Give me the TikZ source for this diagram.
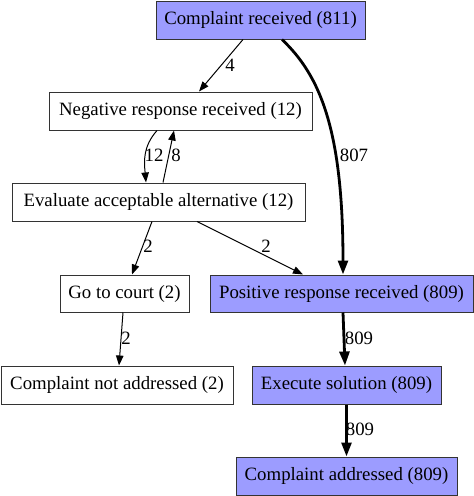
\documentclass[tikz,border=0pt]{standalone}
\usepackage{fontspec}
\setmainfont{Liberation Serif}
\usetikzlibrary{arrows.meta}
\definecolor{hot}{HTML}{9C9CFF}
\definecolor{edgegray}{HTML}{333333}
\tikzset{
  box/.style={draw=edgegray, line width=1pt, fill=white, minimum height=38pt, inner sep=0pt,
              font=\fontsize{18.8}{22}\selectfont},
  hotbox/.style={box, fill=hot},
  thin/.style={draw=black, line width=1pt, -{Triangle[length=10pt,width=7.5pt]}},
  thick/.style={draw=black, line width=2.8pt, -{Triangle[length=14pt,width=10pt]}},
  lbl/.style={inner sep=0pt, font=\fontsize{18.8}{22}\selectfont}
}
\begin{document}
\begin{tikzpicture}[x=1pt,y=-1pt]
\useasboundingbox (0,0) rectangle (474,496);
\node[hotbox, minimum width=209pt] (cr) at (260.5,20) {Complaint received (811)};
\node[box, minimum width=263pt] (nr) at (180.5,111) {Negative response received (12)};
\node[box, minimum width=293pt] (ea) at (158.5,202) {Evaluate acceptable alternative (12)};
\node[box, minimum width=129pt, minimum height=37pt] (gc) at (124.5,293.5) {Go to court (2)};
\node[hotbox, minimum width=263pt, minimum height=37pt] (pr) at (341.5,293.5) {Positive response received (809)};
\node[box, minimum width=232pt] (cna) at (117,385) {Complaint not addressed (2)};
\node[hotbox, minimum width=189pt] (es) at (346.5,385) {Execute solution (809)};
\node[hotbox, minimum width=221pt] (ca) at (346.5,476) {Complaint addressed (809)};

\draw[thin] ([xshift=-17.5pt]cr.south) -- ([xshift=18.5pt]nr.north) node[lbl] at (230,65) {4};
\draw[thick] ([xshift=21.5pt]cr.south) .. controls +(38,36) and +(0,-145) .. ([xshift=1.5pt]pr.north)
  node[lbl] at (354,155) {807};
\draw[thin] ([xshift=-23.5pt]nr.south) .. controls +(-14,16) and +(-2,-22) .. ([xshift=-12.5pt]ea.north)
  node[lbl] at (154,155) {12};
\draw[thin] ([xshift=4.5pt]ea.north) -- ([xshift=-6.5pt]nr.south) node[lbl] at (176,155) {8};
\draw[thin] ([xshift=-6.5pt]ea.south) -- ([xshift=7.5pt]gc.north) node[lbl] at (148,246) {2};
\draw[thin] ([xshift=38.5pt]ea.south) -- ([xshift=-38.5pt]pr.north) node[lbl] at (266,246) {2};
\draw[thin] ([xshift=-1.5pt]gc.south) -- ([xshift=2pt]cna.north) node[lbl] at (126,338) {2};
\draw[thick] ([xshift=1.5pt]pr.south) -- ([xshift=-1.5pt]es.north) node[lbl] at (359,338) {809};
\draw[thick] (es.south) -- (ca.north) node[lbl] at (360,429) {809};
\end{tikzpicture}
\end{document}
